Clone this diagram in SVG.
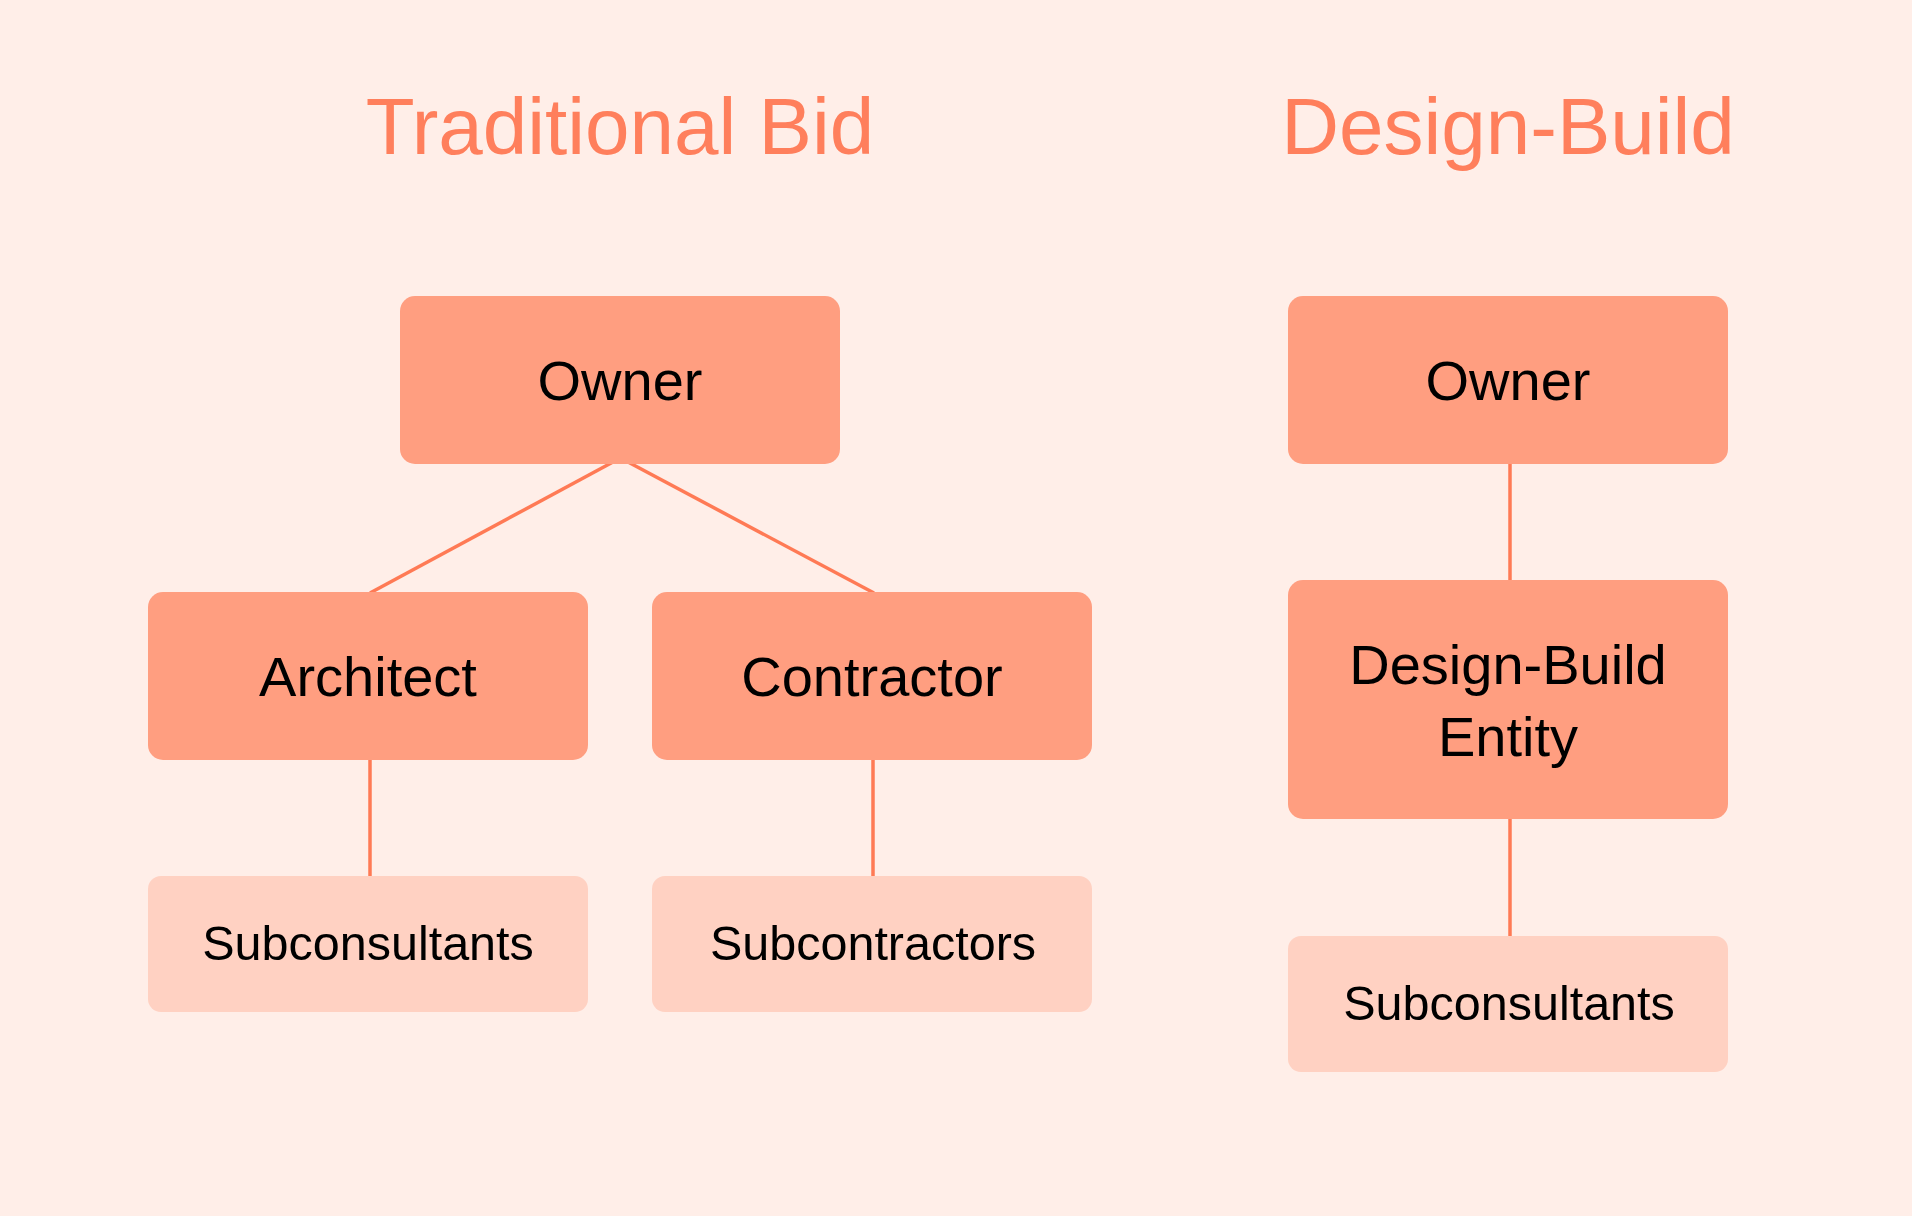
<svg xmlns="http://www.w3.org/2000/svg" width="1912" height="1216" viewBox="0 0 1912 1216">
<style>
.title{font-family:"Liberation Sans",Arial,sans-serif;font-size:80px;fill:#FF7F5C;text-anchor:middle}
.main rect{fill:#FF9E80}
.sub rect{fill:#FFD1C2}
.lbl{font-family:"Liberation Sans",Arial,sans-serif;font-size:56px;fill:#000;text-anchor:middle}
.slbl{font-family:"Liberation Sans",Arial,sans-serif;font-size:48.5px;fill:#000;text-anchor:middle}
.conn line{stroke:#FF7A55;stroke-width:3.5;fill:none}
</style>
<rect width="1912" height="1216" fill="#FFEEE8"/>
<text class="title" x="620" y="154">Traditional Bid</text>
<text class="title" x="1508" y="154">Design-Build</text>
<g class="conn" id="connectors">
<line x1="613" y1="462" x2="370" y2="593"/>
<line x1="628" y1="462" x2="874" y2="593"/>
<line x1="370" y1="758" x2="370" y2="877"/>
<line x1="873" y1="758" x2="873" y2="877"/>
<line x1="1510" y1="462" x2="1510" y2="581"/>
<line x1="1510" y1="818" x2="1510" y2="937"/>
</g>
<g id="tb-owner" class="main"><rect x="400" y="296" width="440" height="168" rx="15"/><text class="lbl" x="620" y="400">Owner</text></g>
<g id="tb-architect" class="main"><rect x="148" y="592" width="440" height="168" rx="15"/><text class="lbl" x="368" y="696">Architect</text></g>
<g id="tb-contractor" class="main"><rect x="652" y="592" width="440" height="168" rx="15"/><text class="lbl" x="872" y="696">Contractor</text></g>
<g id="tb-subconsultants" class="sub"><rect x="148" y="876" width="440" height="136" rx="13"/><text class="slbl" x="368" y="960">Subconsultants</text></g>
<g id="tb-subcontractors" class="sub"><rect x="652" y="876" width="440" height="136" rx="13"/><text class="slbl" x="873" y="960">Subcontractors</text></g>
<g id="db-owner" class="main"><rect x="1288" y="296" width="440" height="168" rx="15"/><text class="lbl" x="1508" y="400">Owner</text></g>
<g id="db-entity" class="main"><rect x="1288" y="580" width="440" height="239" rx="15"/><text class="lbl" x="1508" y="684">Design-Build</text><text class="lbl" x="1508" y="756">Entity</text></g>
<g id="db-subconsultants" class="sub"><rect x="1288" y="936" width="440" height="136" rx="13"/><text class="slbl" x="1509" y="1020">Subconsultants</text></g>
</svg>
